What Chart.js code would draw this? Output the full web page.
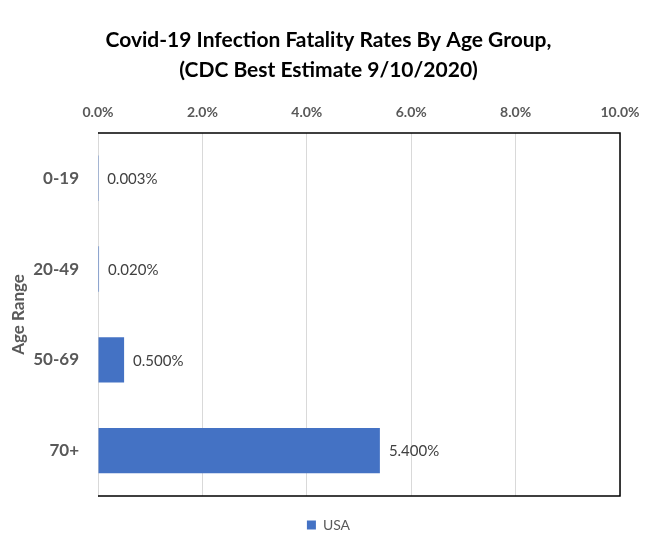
<!DOCTYPE html>
<html lang="en">
<head>
  <meta charset="UTF-8" />
  <title>Covid-19 IFR by Age Group</title>
  <script src="https://cdn.jsdelivr.net/npm/chart.js"></script>
  <style>
    body {
      margin: 0;
      background: #ffffff;
    }
    .wrap {
      width: 657px;
      height: 552px;
    }
  </style>
</head>
<body>

<div class="wrap">
  <canvas id="ifrChart" width="657" height="552"></canvas>
</div>

<script>
  const ageGroups = ['0-19', '20-49', '50-69', '70+'];
  const usaRates = [0.003, 0.02, 0.5, 5.4];   // percent
  const rateTicks = [0, 2, 4, 6, 8, 10];

  const FONT = "Lato, 'Open Sans', sans-serif";

  // value labels after the bar ends
  const valueLabels = {
    id: 'valueLabels',
    afterDatasetsDraw(chart) {
      const ctx = chart.ctx;
      const meta = chart.getDatasetMeta(0);
      ctx.save();
      ctx.font = '15px ' + FONT;
      ctx.fillStyle = '#404040';
      ctx.textAlign = 'left';
      ctx.textBaseline = 'middle';
      meta.data.forEach((bar, i) => {
        ctx.fillText(usaRates[i].toFixed(3) + '%', bar.x + 9, bar.y + 1);
      });
      ctx.restore();
    }
  };

  // black frame on top, right and bottom of plot area
  const plotFrame = {
    id: 'plotFrame',
    afterDraw(chart) {
      const { ctx, chartArea: a } = chart;
      ctx.save();
      ctx.strokeStyle = '#000000';
      ctx.lineWidth = 1.5;
      ctx.beginPath();
      ctx.moveTo(a.left, a.top);
      ctx.lineTo(a.right, a.top);
      ctx.lineTo(a.right, a.bottom);
      ctx.lineTo(a.left, a.bottom);
      ctx.stroke();
      ctx.restore();
    }
  };

  new Chart(document.getElementById('ifrChart'), {
    type: 'bar',
    data: {
      labels: ageGroups,
      datasets: [{
        label: 'USA',
        data: usaRates,
        backgroundColor: '#4472c4',
        barPercentage: 0.5,
        categoryPercentage: 1
      }]
    },
    options: {
      indexAxis: 'y',
      responsive: false,
      animation: false,
      layout: {
        padding: { left: 0, right: 0, top: 0, bottom: 10 }
      },
      scales: {
        x: {
          position: 'top',
          min: 0,
          max: 10,
          afterBuildTicks(axis) {
            axis.ticks = rateTicks.map(v => ({ value: v }));
          },
          afterFit(axis) {
            axis.height = 37;
          },
          grid: {
            color: '#d9d9d9',
            drawTicks: false
          },
          border: { display: false },
          ticks: {
            padding: 12,
            color: '#595959',
            font: { family: FONT, size: 14, weight: 'bold' },
            callback: v => v.toFixed(1) + '%'
          }
        },
        y: {
          afterFit(axis) {
            axis.width = 98;
          },
          grid: { display: false },
          border: { color: '#d9d9d9', width: 1 },
          ticks: {
            padding: 11,
            color: '#595959',
            font: { family: FONT, size: 17, weight: 'bold' }
          },
          title: {
            display: true,
            text: 'Age Range',
            color: '#595959',
            font: { family: FONT, size: 17, weight: 'bold' },
            padding: { top: 8, bottom: 0 }
          }
        },
        // empty right-hand axis that only reserves the margin
        spacer: {
          type: 'linear',
          position: 'right',
          afterFit(axis) {
            axis.width = 37;
          },
          grid: { display: false },
          border: { display: false },
          ticks: { display: false }
        }
      },
      plugins: {
        title: {
          display: true,
          text: ['Covid-19 Infection Fatality Rates By Age Group,', '(CDC Best Estimate 9/10/2020)'],
          color: '#000000',
          font: { family: FONT, size: 21, weight: 'bold', lineHeight: 1.45 },
          padding: { top: 25, bottom: 10 }
        },
        legend: {
          position: 'bottom',
          labels: {
            boxWidth: 9,
            boxHeight: 9,
            color: '#595959',
            font: { family: FONT, size: 14 },
            padding: 22
          }
        },
        tooltip: { enabled: false }
      }
    },
    plugins: [valueLabels, plotFrame]
  });
</script>

</body>
</html>
